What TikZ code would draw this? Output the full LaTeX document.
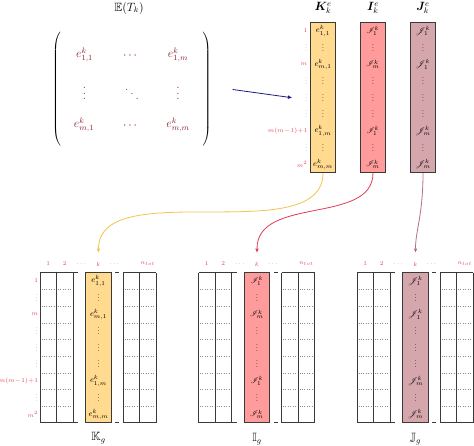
\documentclass[tikz,border=0pt]{standalone}
\usepackage{amsmath,amssymb,bm,mathrsfs}
\usetikzlibrary{arrows.meta}
\definecolor{kfill}{HTML}{FFDA8F}
\definecolor{ifill}{HTML}{FF9B9B}
\definecolor{jfill}{HTML}{D5A7AC}
\definecolor{karr}{HTML}{F3C34A}
\definecolor{iarr}{HTML}{E03A55}
\definecolor{jarr}{HTML}{B4707B}
\definecolor{lblred}{HTML}{E0465E}
\definecolor{entred}{HTML}{8B1E2E}
\definecolor{navyarr}{HTML}{1B1B85}
\definecolor{frame}{HTML}{3A3A3A}
\newcommand{\vdt}{\vbox{\baselineskip=3pt\lineskiplimit=0pt\hbox{.}\hbox{.}\hbox{.}}}
\newcommand{\Vdt}{\vbox{\baselineskip=5.5pt\lineskiplimit=0pt\hbox{.}\hbox{.}\hbox{.}}}
\newcommand{\Ddt}{\hbox{\raisebox{9pt}{.}\kern2pt\raisebox{4.5pt}{.}\kern2pt.}}
\newcommand{\mmlabel}{$m(m\mkern1mu{-}\mkern1mu1)\mkern1mu{+}\mkern1mu1$}
\tikzset{
  lbl/.style={text=lblred, font=\fontsize{6}{7}\selectfont, inner sep=0.5pt},
  ent/.style={font=\footnotesize, inner sep=0pt},
  bigent/.style={text=entred, font=\large, inner sep=0pt},
  colbox/.style={draw=frame, line width=0.7pt, minimum width=25.5pt, minimum height=150pt, inner sep=0pt},
  fr/.style={draw=frame, line width=0.7pt},
  dotl/.style={draw=black!45, dotted, line width=0.4pt},
  conn/.style={line width=0.8pt, -{Triangle[length=4pt,width=3.2pt]}},
}
% column entries: #1 x, #2 top y, #3 prefix, #4-#7 entries
\newcommand{\fillcol}[7]{%
  \foreach \t [count=\i] in {{#4},{\vdt},{#5},{\vdt},{\vdt},{\vdt},{#6},{\vdt},{#7}}
    \node[ent] (#3\i) at (#1, #2+16.667*\i-8.333) {\t};}
% row labels: #1 right x, #2 top y, #3 prefix
\newcommand{\rowlabels}[3]{%
  \foreach \t [count=\i] in {{$1$},{\vdt},{$m$},{\vdt},{\vdt},{\vdt},{\mmlabel},{\vdt},{$m^2$}}
    \node[lbl, anchor=east] (#3\i) at (#1, #2+16.667*\i-8.333) {\t};}
% bottom grid: #1 x0, #2 name, #3 fill
\newcommand{\gridmat}[3]{%
  \draw[fr] (#1,272.7) -- (#1+38,272.7);
  \draw[fr] (#1,422.7) -- (#1+38,422.7);
  \draw[fr] (#1+75,272.7) -- (#1+79,272.7);
  \draw[fr] (#1+75,422.7) -- (#1+79,422.7);
  \draw[fr] (#1+83,272.7) -- (#1+116,272.7);
  \draw[fr] (#1+83,422.7) -- (#1+116,422.7);
  \foreach \dx in {0,16.5,33,83,99.5,116} \draw[fr] (#1+\dx,272.7) -- (#1+\dx,422.7);
  \foreach \j in {1,...,8} {
    \foreach \a/\b in {1.5/15,18/31.5,84.5/98,101/114.5}
      \draw[dotl] (#1+\a,272.7+16.667*\j) -- (#1+\b,272.7+16.667*\j);
  }
  \node[colbox, fill=#3] (#2) at (#1+58.5,347.7) {};
  \node[lbl] (#2c1) at (#1+8.25,264) {$1$};
  \node[lbl] (#2c2) at (#1+24.75,264) {$2$};
  \node[lbl] (#2c3) at (#1+42,264) {$\cdots$};
  \node[lbl] (#2c4) at (#1+58.5,264) {$k$};
  \node[lbl] (#2c5) at (#1+75,264) {$\cdots$};
  \node[lbl] (#2c6) at (#1+107.75,264) {$n_{tot}$};
}
\begin{document}
\begin{tikzpicture}[x=1pt,y=-1pt]
\useasboundingbox (0,0) rectangle (474,445);
% top matrix
\node (Eh) at (129,8) {\large$\mathbb{E}(T_k)$};
\node[inner sep=0] (lp) at (57,89.5) {$\left(\vrule height 55pt depth 55pt width 0pt\right.$};
\node[inner sep=0] (rp) at (206.5,89.5) {$\left.\vrule height 55pt depth 55pt width 0pt\right)$};
\node[bigent] (m11) at (84.5,55) {$e^k_{1,1}$};
\node[bigent] (m12) at (131,56) {$\cdots$};
\node[bigent] (m13) at (178,55) {$e^k_{1,m}$};
\node[bigent] (m21) at (84.5,93.5) {\Vdt};
\node[bigent] (m22) at (132,94) {\Ddt};
\node[bigent] (m23) at (178,93.5) {\Vdt};
\node[bigent] (m31) at (84,125) {$e^k_{m,1}$};
\node[bigent] (m32) at (131,126) {$\cdots$};
\node[bigent] (m33) at (178,125) {$e^k_{m,m}$};
% top columns
\node[colbox, fill=kfill] (Kcol) at (323,97.7) {};
\node[colbox, fill=ifill] (Icol) at (373,97.7) {};
\node[colbox, fill=jfill] (Jcol) at (423,97.7) {};
\node (Kh) at (323,8) {\large$\bm{K}^e_k$};
\node (Ih) at (373,8) {\large$\bm{I}^e_k$};
\node (Jh) at (423,8) {\large$\bm{J}^e_k$};
\fillcol{323}{22.7}{Kt}{$e^k_{1,1}$}{$e^k_{m,1}$}{$e^k_{1,m}$}{$e^k_{m,m}$}
\fillcol{373}{22.7}{It}{$\mathscr{I}^k_1$}{$\mathscr{I}^k_m$}{$\mathscr{I}^k_1$}{$\mathscr{I}^k_m$}
\fillcol{423}{22.7}{Jt}{$\mathscr{J}^k_1$}{$\mathscr{J}^k_1$}{$\mathscr{J}^k_m$}{$\mathscr{J}^k_m$}
\rowlabels{308}{22.7}{Rt}
\draw[conn, navyarr] ([xshift=21pt]rp.east) -- ([xshift=-18pt]Kcol.west);
% bottom matrices
\gridmat{40}{Kg}{kfill}
\gridmat{198.5}{Ig}{ifill}
\gridmat{357}{Jg}{jfill}
\fillcol{98.5}{272.7}{Kb}{$e^k_{1,1}$}{$e^k_{m,1}$}{$e^k_{1,m}$}{$e^k_{m,m}$}
\fillcol{257}{272.7}{Ib}{$\mathscr{I}^k_1$}{$\mathscr{I}^k_m$}{$\mathscr{I}^k_1$}{$\mathscr{I}^k_m$}
\fillcol{415.5}{272.7}{Jb}{$\mathscr{J}^k_1$}{$\mathscr{J}^k_1$}{$\mathscr{J}^k_m$}{$\mathscr{J}^k_m$}
\rowlabels{38.8}{272.7}{Rb}
\node (Kgl) at (98.5,438.5) {\large$\mathbb{K}_g$};
\node (Igl) at (257,439.5) {\large$\mathbb{I}_g$};
\node (Jgl) at (415.5,439.5) {\large$\mathbb{J}_g$};
% connectors
\coordinate (Kend) at (98.5,252.5);
\coordinate (Iend) at (257,252.5);
\coordinate (Jend) at (415.5,252.5);
\draw[conn, karr] (Kcol.south) .. controls +(0,77) and +(0,-78) .. (Kend);
\draw[conn, iarr] (Icol.south) .. controls +(0,52) and +(0,-57) .. (Iend);
\draw[conn, jarr] (Jcol.south) .. controls +(0,42) and +(0,-22) .. (Jend);
\end{tikzpicture}
\end{document}
